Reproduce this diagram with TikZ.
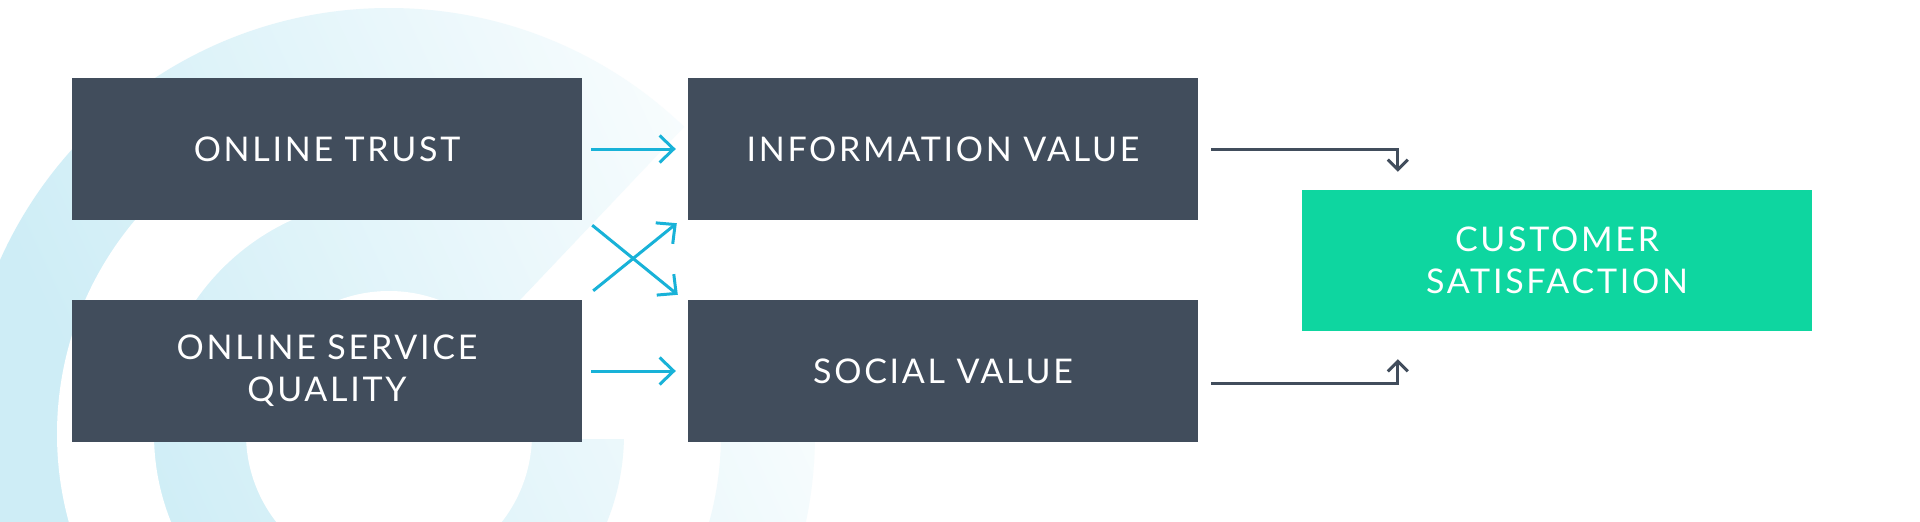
\documentclass[tikz,border=0pt]{standalone}
\usepackage{fontspec}
\setmainfont{Lato}[LetterSpace=8]
\usetikzlibrary{arrows.meta}
\definecolor{boxc}{RGB}{65,77,92}
\definecolor{greenc}{RGB}{14,214,160}
\definecolor{cyanc}{RGB}{24,178,216}
\definecolor{bgc}{RGB}{206,237,246}
\begin{document}
\begin{tikzpicture}[x=1pt,y=-1pt,
  darkbox/.style={fill=boxc, minimum width=510pt, minimum height=142pt, inner sep=0pt,
    text=white, align=center, font=\fontsize{34}{42}\selectfont},
  greenbox/.style={darkbox, fill=greenc, minimum height=141pt},
  carrow/.style={draw=cyanc, line width=3pt, -{Straight Barb[length=14pt,width=27pt]}},
  darrow/.style={draw=boxc, line width=3pt, -{Straight Barb[length=10pt,width=20pt]}},
  bgshade/.style={left color=bgc, right color=white, shading angle=115}]
\useasboundingbox (0,0) rectangle (1920,522);
\fill[white] (0,0) rectangle (1920,522);
% background @ shape
\begin{scope}
  \clip (-20,-150) -- (946.6,-150) -- (235.6,600) -- (-20,600) -- cycle;
  \clip (389,434) circle[radius=426];
  \shade[bgshade] (0,0) rectangle (900,522);
\end{scope}
\begin{scope}
  \clip (389,380) rectangle (900,600);
  \clip (815,434) arc[start angle=0,end angle=360,radius=426] -- cycle
        (721,434) arc[start angle=360,end angle=0,radius=332] -- cycle;
  \shade[bgshade] (0,0) rectangle (900,522);
\end{scope}
\begin{scope}
  \clip (389,439) rectangle (700,600);
  \clip (389,434) circle[radius=235];
  \shade[bgshade] (0,0) rectangle (900,522);
\end{scope}
\begin{scope}
  \clip (-20,-150) -- (817,-150) -- (106,600) -- (-20,600) -- cycle;
  \fill[white] (721,434) arc[start angle=0,end angle=360,radius=332] -- cycle
        (624,434) arc[start angle=360,end angle=0,radius=235] -- cycle;
\end{scope}
\fill[white] (389,434) circle[radius=143];
% nodes
\node[darkbox] (ot) at (327,149) {ONLINE TRUST};
\node[darkbox] (osq) at (327,371) {ONLINE SERVICE\\QUALITY};
\node[darkbox] (iv) at (943,149) {INFORMATION VALUE};
\node[darkbox] (sv) at (943,371) {SOCIAL VALUE};
\node[greenbox] (cs) at (1557,260.5) {CUSTOMER\\SATISFACTION};
% cyan arrows
\draw[carrow] ([xshift=9pt]ot.east) -- ([xshift=-12pt]iv.west);
\draw[carrow] ([xshift=9pt]osq.east) -- ([xshift=-12pt]sv.west);
\draw[carrow] ([xshift=11pt,yshift=9pt]osq.north east) -- ([xshift=-11pt,yshift=-3pt]iv.south west);
\draw[carrow] ([xshift=10pt,yshift=-5pt]ot.south east) -- ([xshift=-10pt,yshift=5pt]sv.north west);
% dark connectors
\coordinate (tt) at ([xshift=96pt,yshift=18pt]cs.north west);
\coordinate (tb) at ([xshift=96pt,yshift=-28pt]cs.south west);
\draw[darrow] ([xshift=13pt]iv.east) -| (tt);
\draw[darrow] ([xshift=13pt,yshift=-12pt]sv.east) -| (tb);
\end{tikzpicture}
\end{document}
